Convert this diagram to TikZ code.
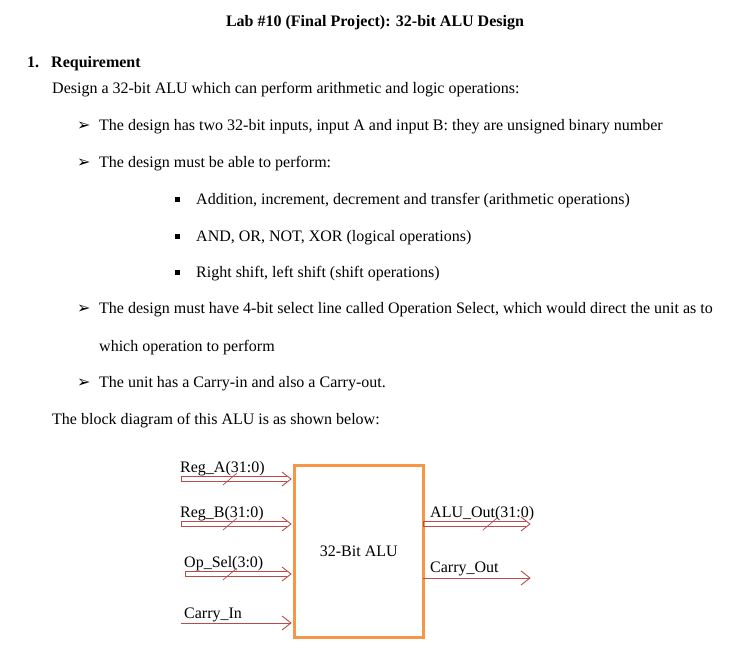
\documentclass[tikz,border=0pt]{standalone}
\usepackage{fontspec}
\setmainfont{Liberation Serif}
\newfontfamily\dejavu{DejaVu Sans}
\begin{document}
\begin{tikzpicture}[x=1pt,y=-1pt,
  txt/.style={anchor=base west,inner sep=0,font=\fontsize{16}{19}\selectfont},
  lbl/.style={anchor=base west,inner sep=0,font=\fontsize{16}{19}\selectfont},
  arr/.style={anchor=base west,inner sep=0,font=\dejavu\bfseries\fontsize{16}{19}\selectfont},
  sig/.style={draw=red!60!black!70!white,line width=0.9pt},
  sq/.style={fill=black,minimum size=5,inner sep=0}]
\useasboundingbox (0,0) rectangle (734,653);
\node[txt,anchor=base,font=\bfseries\fontsize{16}{19}\selectfont] (title) at (375,27) {Lab \#10 (Final Project): 32-bit ALU Design};
\node[txt,font=\bfseries\fontsize{16}{19}\selectfont] (req) at (27,67) {1.\hspace{12pt}Requirement};
\node[txt] (t0) at (52,93) {Design a 32-bit ALU which can perform arithmetic and logic operations:};
\foreach \n/\y in {a1/130,a2/167,a3/313,a4/387}{\node[arr] (\n) at (77,\y) {➢};}
\node[txt] (t1) at (99,130) {The design has two 32-bit inputs, input A and input B: they are unsigned binary number};
\node[txt] (t2) at (99,167) {The design must be able to perform:};
\foreach \n/\y in {s1/199,s2/236,s3/272}{\node[sq] (\n) at (177,\y) {};}
\node[txt] (t3) at (196,204) {Addition, increment, decrement and transfer (arithmetic operations)};
\node[txt] (t4) at (196,241) {AND, OR, NOT, XOR (logical operations)};
\node[txt] (t5) at (196,277) {Right shift, left shift (shift operations)};
\node[txt] (t6) at (99,313) {The design must have 4-bit select line called Operation Select, which would direct the unit as to};
\node[txt] (t7) at (99,351) {which operation to perform};
\node[txt] (t8) at (99,387) {The unit has a Carry-in and also a Carry-out.};
\node[txt] (t9) at (52,424) {The block diagram of this ALU is as shown below:};
% box
\node[draw={rgb,255:red,247;green,150;blue,70},line width=2.5pt,minimum width=129,minimum height=172,inner sep=0,anchor=north west,font=\fontsize{16}{19}\selectfont] (alu) at (293,464) {32-Bit ALU};
% labels
\node[lbl] (la) at (180,472) {Reg\_A(31:0)};
\node[lbl] (lb) at (180,517) {Reg\_B(31:0)};
\node[lbl] (lo) at (184,567) {Op\_Sel(3:0)};
\node[lbl] (lc) at (184,618) {Carry\_In};
\node[lbl] (lu) at (430,517) {ALU\_Out(31:0)};
\node[lbl] (lco) at (430,572) {Carry\_Out};
% connectors
\foreach \n/\xs/\xe/\y in {A/181/291/479,B/181/291/524,O/185/291/574,U/423/530/524}{
  \coordinate (s\n) at (\xs,\y); \coordinate (e\n) at (\xe,\y);
  \draw[sig] ([yshift=-2.8]s\n) -- ([yshift=-2.8,xshift=-4]e\n) ([yshift=2.8]s\n) -- ([yshift=2.8,xshift=-4]e\n) ([yshift=-2.8]s\n) -- ([yshift=2.8]s\n);
  \draw[sig] ([xshift=-9,yshift=-7]e\n) -- (e\n) -- ([xshift=-9,yshift=7]e\n);
}
\foreach \x/\y in {230/479,230/524,230/574,490/524}{\draw[sig,line width=0.7pt] (\x-7,\y+6) -- (\x+7,\y-6);}
\coordinate (sC) at (181,623); \coordinate (eC) at (291,623);
\coordinate (sK) at (423,578); \coordinate (eK) at (530,578);
\foreach \n in {C,K}{\draw[sig] (s\n) -- (e\n); \draw[sig] ([xshift=-9,yshift=-7]e\n) -- (e\n) -- ([xshift=-9,yshift=7]e\n);}
\end{tikzpicture}
\end{document}
